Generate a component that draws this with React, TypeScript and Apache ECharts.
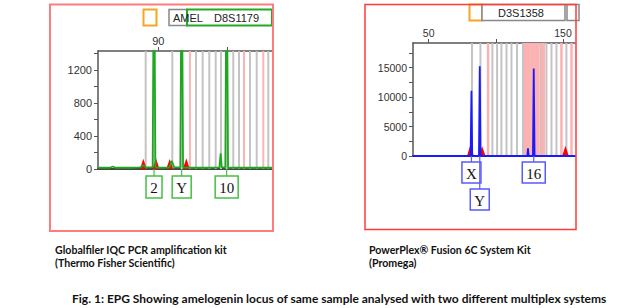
import React, { useEffect, useRef } from "react";
import * as echarts from "echarts";

// ---------- data ----------
// Left panel: Globalfiler (green dye), bp scale
const leftXRange = [81.26, 106.48];
const leftYRange = [0, 1430];
const leftXTicks = [90, 100];
const leftXLabels = [90];
const leftYTicks = [0, 200, 400, 600, 800, 1000, 1200, 1400];
const leftYLabels = [0, 400, 800, 1200];
const leftGrayBins = [88.17, 89.38, 92.03, 93.39, 95.46, 96.43, 97.39, 98.32, 99.09, 99.91, 100.87, 101.7, 103.29, 104.26, 105.94];
const leftPinkBins = [94.59, 102.42, 105.22];
const leftTraceBp = [81.3, 83.0, 83.4, 83.8, 86.0, 87.4, 87.8, 88.2, 89.18, 89.38, 89.58, 90.6, 91.6, 91.94, 92.3, 93.19, 93.39, 93.59, 95.0, 97.0, 98.85, 99.04, 99.2, 99.71, 99.91, 100.11, 102.0, 104.0, 106.5];
const leftTraceRfu = [15, 15, 30, 15, 15, 20, 45, 20, 20, 3000, 20, 15, 20, 100, 20, 20, 3000, 20, 15, 15, 20, 190, 20, 20, 3000, 15, 15, 15, 15];
const leftTriBp = [87.83, 89.67, 91.65, 94.06];
const leftTriRfu = [125, 130, 120, 130];
const leftTriHalfBp = 0.5;
const leftAlleleBp = [89.38, 93.39, 99.91];
const leftAlleleText = ["2", "Y", "10"];
const leftAlleleRow = [0, 0, 0];

// Right panel: PowerPlex Fusion 6C (blue dye)
const rightXRange = [38.3, 158.9];
const rightYRange = [0, 19200];
const rightXTicks = [50, 100, 150];
const rightXLabels = [50, 150];
const rightYTicks = [0, 2500, 5000, 7500, 10000, 12500, 15000, 17500];
const rightYLabels = [0, 5000, 10000, 15000];
const rightGrayBins = [82.2, 88.5, 97.4, 100.9, 104.1, 107.9, 111.6, 115.7, 120.2, 125.2, 133.2, 137.6, 141.4, 145.1, 152.5];
const rightPinkBins = [94.2, 121.8, 123.2, 124.4, 126.6, 127.6, 129.4, 130.5, 131.6, 134.5, 135.6, 148.8, 156.3];
const rightTraceBp = [38.3, 81.2, 81.8, 82.4, 87.4, 88.0, 88.6, 123.4, 123.9, 124.4, 127.6, 128.2, 128.8, 158.9];
const rightTraceRfu = [0, 0, 11070, 0, 0, 15250, 0, 0, 1300, 0, 0, 14860, 0, 0];
const rightTriBp = [81.0, 89.8, 151.8];
const rightTriRfu = [1900, 1650, 1750];
const rightTriHalfBp = 2.5;
const rightAlleleBp = [81.8, 88.0, 128.2];
const rightAlleleText = ["X", "Y", "16"];
const rightAlleleRow = [0, 1, 0];

// ---------- helpers ----------
const AX_FONT = '"Liberation Sans", Arial, sans-serif';
const SERIF = '"Liberation Serif", "Times New Roman", serif';
const CAP_FONT = 'Lato, "Open Sans", sans-serif';

let measureCtx: CanvasRenderingContext2D | null = null;
function textWidth(t: string, font: string) {
  if (!measureCtx) measureCtx = document.createElement("canvas").getContext("2d");
  if (!measureCtx) return t.length * 8;
  measureCtx.font = font;
  return measureCtx.measureText(t).width;
}

const plain = (v: number) => String(v);

function binSeries(grid: number, bins: number[], color: string, width: number) {
  return {
    type: "custom",
    xAxisIndex: grid * 2,
    yAxisIndex: grid,
    z: 1,
    silent: true,
    data: bins.map((v) => [v, 0]),
    encode: { x: 0, y: 1 },
    renderItem: (params: any, api: any) => {
      const x = api.coord([api.value(0), 0])[0];
      const cs = params.coordSys;
      return {
        type: "line",
        shape: { x1: x, y1: cs.y, x2: x, y2: cs.y + cs.height },
        style: { stroke: color, lineWidth: width },
      };
    },
  };
}

function triSeries(grid: number, bp: number[], rfu: number[], half: number) {
  return {
    type: "custom",
    xAxisIndex: grid * 2,
    yAxisIndex: grid,
    z: 2,
    silent: true,
    clip: true,
    data: bp.map((v, i) => [v, rfu[i]]),
    encode: { x: 0, y: 1 },
    renderItem: (params: any, api: any) => {
      const c = api.value(0);
      const h = api.value(1);
      return {
        type: "polygon",
        shape: { points: [api.coord([c - half, 0]), api.coord([c, h]), api.coord([c + half, 0])] },
        style: { fill: "#ff0000" },
      };
    },
  };
}

function traceSeries(grid: number, bp: number[], rfu: number[], color: string, width: number) {
  return {
    type: "line",
    xAxisIndex: grid * 2,
    yAxisIndex: grid,
    z: 3,
    silent: true,
    clip: true,
    symbol: "none",
    data: bp.map((v, i) => [v, rfu[i]]),
    lineStyle: { color, width },
  };
}

function alleleSeries(grid: number, bp: number[], texts: string[], rows: number[], color: string, off0: number, rowStep: number, boxH: number) {
  return {
    type: "custom",
    xAxisIndex: grid * 2,
    yAxisIndex: grid,
    z: 4,
    silent: true,
    clip: false,
    data: bp.map((v, i) => [v, rows[i]]),
    encode: { x: 0 },
    renderItem: (params: any, api: any) => {
      const p = api.coord([api.value(0), 0]);
      const row = api.value(1);
      const txt = texts[params.dataIndex];
      const font = `15px ${SERIF}`;
      const w = Math.round(textWidth(txt, font) + 8);
      const top = p[1] + off0 + row * rowStep;
      return {
        type: "group",
        children: [
          { type: "line", shape: { x1: p[0], y1: p[1], x2: p[0], y2: top }, style: { stroke: color, lineWidth: 1.2 } },
          { type: "rect", shape: { x: p[0] - w / 2, y: top, width: w, height: boxH }, style: { fill: "#fff", stroke: color, lineWidth: 1.5 } },
          {
            type: "text",
            x: p[0],
            y: top + boxH / 2 + 1,
            style: { text: txt, font, fill: "#111", align: "center", verticalAlign: "middle", textAlign: "center", textVerticalAlign: "middle" },
          },
        ],
      };
    },
  };
}

function topXAxis(grid: number, range: number[], ticks: number[], labels: number[], margin: number, fs: number) {
  return {
    type: "value",
    gridIndex: grid,
    position: "top",
    min: range[0],
    max: range[1],
    splitLine: { show: false },
    axisLine: { show: true, onZero: false, lineStyle: { color: "#555", width: 1.5 } },
    axisTick: { show: true, customValues: ticks, length: 4, lineStyle: { color: "#555", width: 1 } },
    axisLabel: { show: true, customValues: labels, formatter: plain, margin, fontSize: fs, color: "#333", fontFamily: AX_FONT },
  };
}

function bottomXAxis(grid: number, range: number[], color: string) {
  return {
    type: "value",
    gridIndex: grid,
    position: "bottom",
    min: range[0],
    max: range[1],
    splitLine: { show: false },
    axisLine: { show: true, onZero: false, lineStyle: { color, width: 2 } },
    axisTick: { show: false },
    axisLabel: { show: false },
    minorTick: { show: false },
  };
}

function yAxis(grid: number, range: number[], ticks: number[], labels: number[], fs: number) {
  return {
    type: "value",
    gridIndex: grid,
    min: range[0],
    max: range[1],
    splitLine: { show: false },
    axisLine: { show: true, onZero: false, lineStyle: { color: "#555", width: 1.5 } },
    axisTick: { show: true, customValues: ticks, length: 4, lineStyle: { color: "#555", width: 1 } },
    axisLabel: { show: true, customValues: labels, formatter: plain, margin: 6, fontSize: fs, color: "#333", fontFamily: AX_FONT },
  };
}

const legendFont = `11px ${AX_FONT}`;
const capFont = `bold 10.6px ${CAP_FONT}`;
const midText = { fill: "#111", verticalAlign: "middle", textVerticalAlign: "middle" };

const option: any = {
  animation: false,
  backgroundColor: "#fff",
  grid: [
    { left: 98, top: 51, width: 174, height: 118 },
    { left: 413, top: 43, width: 162, height: 113 },
  ],
  xAxis: [
    topXAxis(0, leftXRange, leftXTicks, leftXLabels, 5, 11),
    bottomXAxis(0, leftXRange, "#444"),
    topXAxis(1, rightXRange, rightXTicks, rightXLabels, 5, 10.5),
    bottomXAxis(1, rightXRange, "#1c1c66"),
  ],
  yAxis: [yAxis(0, leftYRange, leftYTicks, leftYLabels, 11), yAxis(1, rightYRange, rightYTicks, rightYLabels, 10.5)],
  series: [
    binSeries(0, leftGrayBins, "#c4c4c4", 2),
    binSeries(0, leftPinkBins, "#ffb4b4", 2),
    triSeries(0, leftTriBp, leftTriRfu, leftTriHalfBp),
    traceSeries(0, leftTraceBp, leftTraceRfu, "#1fa81f", 1.8),
    alleleSeries(0, leftAlleleBp, leftAlleleText, leftAlleleRow, "#44c044", 7, 27, 22),
    binSeries(1, rightGrayBins, "#c4c4c4", 2),
    binSeries(1, rightPinkBins, "#ffb0b0", 2.5),
    triSeries(1, rightTriBp, rightTriRfu, rightTriHalfBp),
    traceSeries(1, rightTraceBp, rightTraceRfu, "#1a1aff", 1.8),
    alleleSeries(1, rightAlleleBp, rightAlleleText, rightAlleleRow, "#5a5aff", 6, 27, 21),
  ],
  graphic: [
    // panel borders
    { type: "rect", z: 100, shape: { x: 50, y: 4.5, width: 223, height: 226.5 }, style: { fill: "none", stroke: "#ff7c7c", lineWidth: 2 } },
    { type: "rect", z: 100, shape: { x: 365, y: 4.5, width: 211, height: 225 }, style: { fill: "none", stroke: "#ff3a3a", lineWidth: 1.5 } },
    // left legend boxes
    { type: "rect", z: 90, shape: { x: 143.5, y: 9.5, width: 13, height: 16 }, style: { fill: "#fff", stroke: "#f5a623", lineWidth: 2 } },
    { type: "rect", z: 90, shape: { x: 169, y: 9.5, width: 18, height: 16 }, style: { fill: "#fff", stroke: "#888", lineWidth: 1.5 } },
    { type: "rect", z: 91, shape: { x: 187, y: 9.5, width: 85, height: 16 }, style: { fill: "none", stroke: "#22aa22", lineWidth: 2 } },
    { type: "text", z: 92, x: 173, y: 18, style: { text: "AMEL", font: legendFont, fill: "#222", verticalAlign: "middle", textVerticalAlign: "middle" } },
    { type: "text", z: 92, x: 214, y: 18, style: { text: "D8S1179", font: legendFont, fill: "#222", verticalAlign: "middle", textVerticalAlign: "middle" } },
    // right legend boxes
    { type: "rect", z: 90, shape: { x: 469.5, y: 4.5, width: 12.5, height: 16 }, style: { fill: "#fff", stroke: "#f5a623", lineWidth: 2 } },
    { type: "rect", z: 90, shape: { x: 482, y: 4.5, width: 83, height: 16 }, style: { fill: "#fff", stroke: "#888", lineWidth: 1.5 } },
    { type: "rect", z: 90, shape: { x: 567, y: 4.5, width: 12, height: 16 }, style: { fill: "#fff", stroke: "#888", lineWidth: 1.5 } },
    { type: "text", z: 92, x: 521, y: 13, style: { text: "D3S1358", font: legendFont, fill: "#222", align: "center", textAlign: "center", verticalAlign: "middle", textVerticalAlign: "middle" } },
    // captions
    { type: "text", z: 92, x: 55, y: 250, style: { text: "Globalfiler IQC PCR amplification kit", font: capFont, ...midText } },
    { type: "text", z: 92, x: 55, y: 263, style: { text: "(Thermo Fisher Scientific)", font: capFont, ...midText } },
    { type: "text", z: 92, x: 369, y: 250, style: { text: "PowerPlex\u00AE Fusion 6C System Kit", font: capFont, ...midText } },
    { type: "text", z: 92, x: 369, y: 263, style: { text: "(Promega)", font: capFont, ...midText } },
    { type: "text", z: 92, x: 72, y: 298, style: { text: "Fig. 1: EPG Showing amelogenin locus of same sample analysed with two different multiplex systems", font: `bold 12px ${CAP_FONT}`, ...midText } },
  ],
};

export default function App() {
  const ref = useRef<HTMLDivElement>(null);
  useEffect(() => {
    if (!ref.current) return;
    const chart = echarts.init(ref.current, null, { renderer: "svg" });
    chart.setOption(option);
    return () => chart.dispose();
  }, []);
  return <div ref={ref} style={{ position: "absolute", left: 0, top: 0, width: 625, height: 308, background: "#fff" }} />;
}
